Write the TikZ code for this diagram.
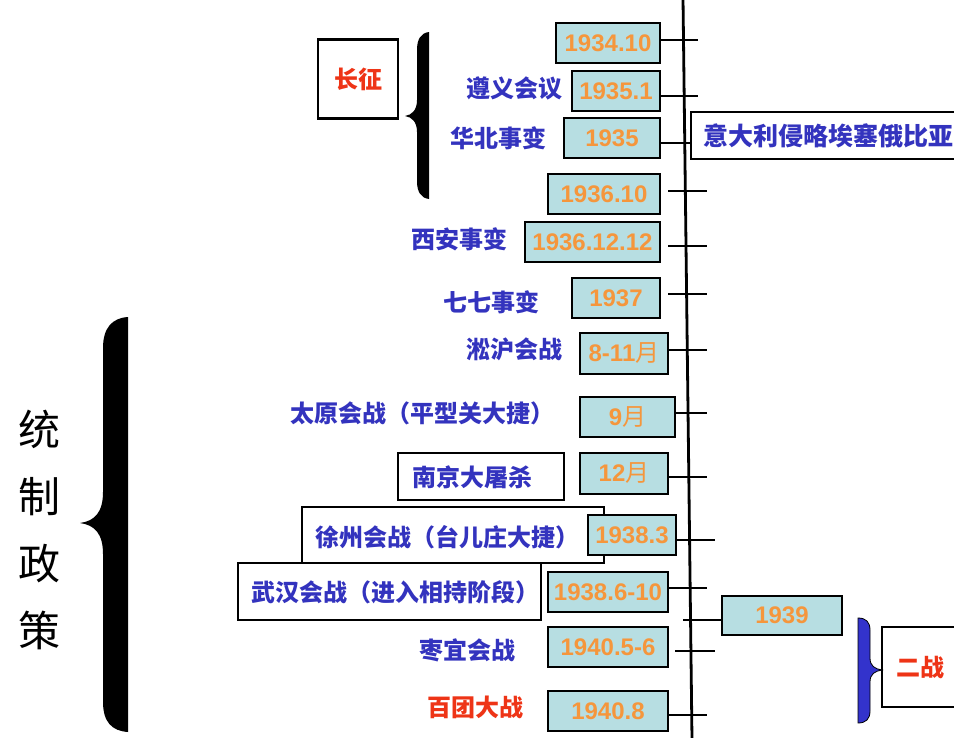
\documentclass[tikz,border=0pt]{standalone}
\usepackage{fontspec}
\setmainfont{Liberation Sans}
\newfontfamily\cjk{Noto Sans CJK SC}
\usetikzlibrary{positioning}
\definecolor{eventblue}{RGB}{51,51,190}
\definecolor{dateorange}{RGB}{245,150,60}
\definecolor{datefill}{RGB}{183,222,226}
\definecolor{headred}{RGB}{238,52,22}
\definecolor{braceblue}{RGB}{51,51,204}
\newcommand{\yue}{{\cjk\mdseries 月}}
\tikzset{
  datebox/.style={draw=black, line width=2.2pt, fill=datefill, text=dateorange, font=\bfseries\fontsize{24}{28}\selectfont, inner sep=0pt, minimum height=40pt},
  event/.style={text=eventblue, font=\cjk\bfseries\fontsize{24}{28}\selectfont, inner sep=0pt},
  eventbox/.style={draw=black, line width=2.2pt, fill=white, inner sep=0pt},
  headbox/.style={draw=black, line width=2.2pt, fill=white, text=headred, font=\cjk\bfseries\fontsize{24}{28}\selectfont, inner sep=0pt},
  tick/.style={line width=1.8pt},
  axis/.style={line width=2.8pt},
  bracefill/.style={fill=black}
}
\begin{document}
\begin{tikzpicture}[x=1pt, y=-1pt]
\useasboundingbox (0,0) rectangle (954,737);

% timeline
\coordinate (top) at (683,-2);
\coordinate (bottom) at (692,739);
\draw[axis] (top) -- (bottom);
\foreach \a/\b/\y in {660/698/40, 660/698/96, 660/692/143, 668/707/191, 668/707/246,
  668/707/294, 668/707/350, 675/707/413, 668/707/477, 675/715/540, 668/707/588,
  683/722/620, 675/715/651, 668/707/715}
  \draw[tick] (\a,\y) -- (\b,\y);

% boxed labels
\node[headbox, minimum width=80, minimum height=79] (changzheng) at (358,79) {长征};
\node[eventbox, minimum width=166, minimum height=47] (nanjingbox) at (481,476.5) {};
\node[event] (nanjing) at (472,477) {南京大屠杀};
\node[eventbox, minimum width=302, minimum height=56] (xuzhoubox) at (453,535) {};
\node[event] (xuzhou) at (447,537) {徐州会战（台儿庄大捷）};
\node[eventbox, minimum width=303, minimum height=57] (wuhanbox) at (389.5,591.5) {};
\node[event] (wuhan) at (395,592) {武汉会战（进入相持阶段）};
\node[eventbox, minimum width=274, minimum height=47] (italybox) at (828,135.5) {};
\node[event, anchor=west, font=\cjk\bfseries\fontsize{25}{28}\selectfont] (italy) at (703,136) {意大利侵略埃塞俄比亚};
\node[headbox, minimum width=76, minimum height=80] (erzhan) at (920,667) {二战};

% dates
\node[datebox, minimum width=104] (d1) at (608,43) {1934.10};
\node[datebox, minimum width=88] (d2) at (616,91) {1935.1};
\node[datebox, minimum width=96] (d3) at (612,138) {1935};
\node[datebox, minimum width=112] (d4) at (604,194) {1936.10};
\node[datebox, minimum width=135] (d5) at (592.5,242) {1936.12.12};
\node[datebox, minimum width=88] (d6) at (616,298) {1937};
\node[datebox, minimum width=88, minimum height=41] (d7) at (624,353.5) {8-11\yue};
\node[datebox, minimum width=95] (d8) at (627.5,417) {9\yue};
\node[datebox, minimum width=88, minimum height=41] (d9) at (624,473.5) {12\yue};
\node[datebox, minimum width=88] (d10) at (632,535) {1938.3};
\node[datebox, minimum width=120] (d11) at (608,592) {1938.6-10};
\node[datebox, minimum width=120, minimum height=39] (d12) at (782,615.5) {1939};
\node[datebox, minimum width=120] (d13) at (608,647) {1940.5-6};
\node[datebox, minimum width=120] (d14) at (608,711) {1940.8};

% events
\node[event] (zunyi) at (514,88) {遵义会议};
\node[event] (huabei) at (498,138) {华北事变};
\node[event] (xian) at (459,239) {西安事变};
\node[event] (qiqi) at (491,302) {七七事变};
\node[event] (songhu) at (514,349) {淞沪会战};
\node[event] (taiyuan) at (422,413) {太原会战（平型关大捷）};
\node[event] (zaoyi) at (467,650) {枣宜会战};
\node[event, text=headred] (baituan) at (475,707) {百团大战};

% braces
\fill[bracefill] (429,32) .. controls (421,33) and (417,39) .. (417,50) -- (417,100)
  .. controls (417,110) and (412,115) .. (405,116) .. controls (412,117) and (417,122) .. (417,132)
  -- (417,181) .. controls (417,192) and (421,198) .. (429,199) -- cycle;
\fill[bracefill] (128,317) .. controls (112,318) and (103,328) .. (103,348) -- (103,492)
  .. controls (103,512) and (95,521) .. (80,523) .. controls (95,525) and (103,534) .. (103,554)
  -- (103,702) .. controls (103,722) and (112,731) .. (128,732) -- cycle;
\filldraw[fill=braceblue, draw=black, line width=0.8pt] (858,618) .. controls (866,618) and (870,622) .. (870,630)
  -- (870,658) .. controls (870,666) and (875,669) .. (882,670) .. controls (875,671) and (870,674) .. (870,682)
  -- (870,711) .. controls (870,719) and (866,723) .. (858,723) -- cycle;

\node[font=\cjk\fontsize{42}{67}\selectfont, align=center, inner sep=0pt] (tongzhi) at (40,530) {统\\制\\政\\策};
\end{tikzpicture}
\end{document}
